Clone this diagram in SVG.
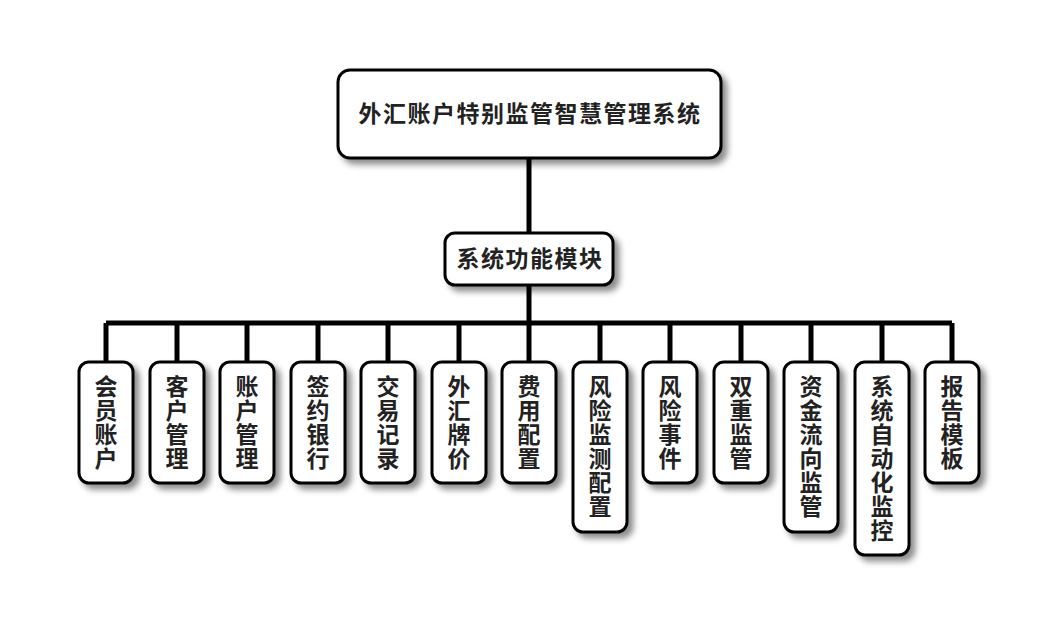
<svg xmlns="http://www.w3.org/2000/svg" width="1057" height="632" viewBox="0 0 1057 632">
<defs>
<filter id="sh" x="-30%" y="-30%" width="170%" height="170%">
<feDropShadow dx="5" dy="5" stdDeviation="3" flood-color="#000" flood-opacity="0.45"/>
</filter>
<style>
.box{fill:#fff;stroke:#000;stroke-width:3;filter:url(#sh)}
.t{font-family:"Noto Sans CJK SC","Noto Sans",sans-serif;font-weight:700;fill:#222;text-anchor:middle}
.big{font-size:23px;letter-spacing:1.5px}
.v{font-size:23px;letter-spacing:1px;writing-mode:vertical-rl;text-orientation:upright}
.c{stroke:#000;stroke-width:5;fill:none}
</style>
</defs>
<rect width="1057" height="632" fill="#fff"/>
<g id="connectors">
<path class="c" d="M529 158V233M529 285V323M106 323H952M106 323V362M177 323V362M247 323V362M318 323V362M388 323V362M459 323V362M529 323V362M600 323V362M670 323V362M741 323V362M811 323V362M882 323V362M952 323V362"/>
</g>
<g id="root"><rect class="box" x="338" y="70" width="383" height="88" rx="12"/><text class="t big" x="530" y="122">外汇账户特别监管智慧管理系统</text></g>
<g id="mod"><rect class="box" x="445" y="233" width="168" height="52" rx="10"/><text class="t big" x="530" y="267">系统功能模块</text></g>
<g id="n1"><rect class="box" x="79" y="362" width="54" height="121" rx="10"/><text class="t v" x="106" y="423">会员账户</text></g>
<g id="n2"><rect class="box" x="150" y="362" width="54" height="121" rx="10"/><text class="t v" x="177" y="423">客户管理</text></g>
<g id="n3"><rect class="box" x="220" y="362" width="54" height="121" rx="10"/><text class="t v" x="247" y="423">账户管理</text></g>
<g id="n4"><rect class="box" x="291" y="362" width="54" height="121" rx="10"/><text class="t v" x="318" y="423">签约银行</text></g>
<g id="n5"><rect class="box" x="361" y="362" width="54" height="121" rx="10"/><text class="t v" x="388" y="423">交易记录</text></g>
<g id="n6"><rect class="box" x="432" y="362" width="54" height="121" rx="10"/><text class="t v" x="459" y="423">外汇牌价</text></g>
<g id="n7"><rect class="box" x="502" y="362" width="54" height="121" rx="10"/><text class="t v" x="529" y="423">费用配置</text></g>
<g id="n8"><rect class="box" x="573" y="362" width="54" height="170" rx="10"/><text class="t v" x="600" y="447">风险监测配置</text></g>
<g id="n9"><rect class="box" x="643" y="362" width="54" height="121" rx="10"/><text class="t v" x="670" y="423">风险事件</text></g>
<g id="n10"><rect class="box" x="714" y="362" width="54" height="121" rx="10"/><text class="t v" x="741" y="423">双重监管</text></g>
<g id="n11"><rect class="box" x="784" y="362" width="54" height="170" rx="10"/><text class="t v" x="811" y="447">资金流向监管</text></g>
<g id="n12"><rect class="box" x="855" y="362" width="54" height="193" rx="10"/><text class="t v" x="882" y="459">系统自动化监控</text></g>
<g id="n13"><rect class="box" x="925" y="362" width="54" height="121" rx="10"/><text class="t v" x="952" y="423">报告模板</text></g>
</svg>
